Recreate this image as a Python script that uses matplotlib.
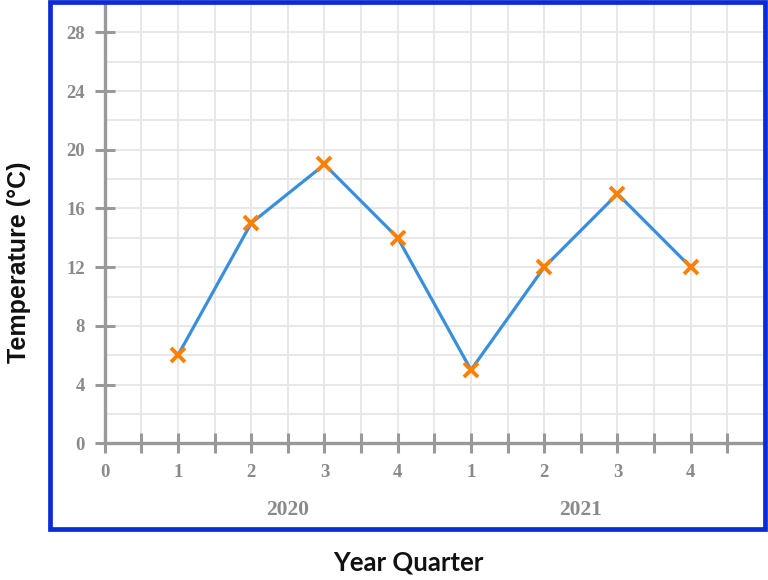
import matplotlib
matplotlib.use('Agg')
import matplotlib.pyplot as plt
from matplotlib.patches import Rectangle
from matplotlib.transforms import blended_transform_factory
import numpy as np

# quarterly temperatures, 2020 then 2021
years = ['2020', '2021']
quarter_labels = ['0', '1', '2', '3', '4', '1', '2', '3', '4']
temps = [6, 15, 19, 14, 5, 12, 17, 12]

x = np.arange(1, len(temps) + 1)
year_centres = [2.5, 6.5]

axis_grey = '#999999'
label_grey = '#8a8a8a'

fig = plt.figure(figsize=(7.68, 5.8), dpi=100)
ax = fig.add_axes([104.7 / 768, 1 - 443.3 / 580, (764 - 104.7) / 768, 440.3 / 580])

ax.plot(x, temps, color='#3a8fdc', linewidth=2.3, zorder=3, clip_on=False)
ax.plot(x, temps, linestyle='none', marker='x', color='#ff8000',
        markersize=10, markeredgewidth=2.8, zorder=4, clip_on=False)

ax.set_xlim(0, 9.0)
ax.set_ylim(0, 29.9)

# ticks every half quarter, labels only on whole quarters
xt = np.arange(0, 9, 0.5)
ax.set_xticks(xt)
ax.set_xticklabels([quarter_labels[int(v)] if v == int(v) else '' for v in xt])
ax.set_yticks(np.arange(0, 29, 4))
ax.set_yticks(np.arange(2, 31, 4), minor=True)

for lab in ax.get_xticklabels() + ax.get_yticklabels():
    lab.set_fontfamily('Liberation Serif')
    lab.set_fontweight('bold')
    lab.set_color(label_grey)
    lab.set_fontsize(13.5)

ax.tick_params(axis='both', which='major', direction='inout', length=14.5,
               width=2.2, color=axis_grey, pad=7)
ax.tick_params(axis='x', pad=8)
ax.tick_params(axis='y', which='minor', length=0)

ax.grid(True, which='both', color='#e6e6e6', linewidth=1.3)
ax.set_axisbelow(True)

for side in ['top', 'right']:
    ax.spines[side].set_visible(False)
for side in ['left', 'bottom']:
    ax.spines[side].set_color(axis_grey)
    ax.spines[side].set_linewidth(2.4)

trans = blended_transform_factory(ax.transData, ax.transAxes)
for yr, xc in zip(years, year_centres):
    ax.text(xc, -0.152, yr, transform=trans, ha='center', va='center',
            fontsize=15.5, fontweight='bold', color=label_grey,
            fontfamily='Liberation Serif', clip_on=False)

# blue frame round the chart
fig.add_artist(Rectangle((50 / 768, 1 - 529 / 580), 715 / 768, 527.5 / 580,
                         transform=fig.transFigure, fill=False,
                         edgecolor='#0a2bd6', linewidth=3.4, zorder=5))

fig.text(408 / 768, 1 - 563 / 580, 'Year Quarter', ha='center', va='center',
         fontsize=18.5, fontweight='bold', fontfamily='Lato', color='#111111')
fig.text(19 / 768, 1 - 262 / 580, 'Temperature (°C)', ha='center', va='center',
         rotation=90, fontsize=18, fontweight='bold',
         fontfamily='Liberation Sans', color='#111111')

fig.savefig('out.png', dpi=100)
